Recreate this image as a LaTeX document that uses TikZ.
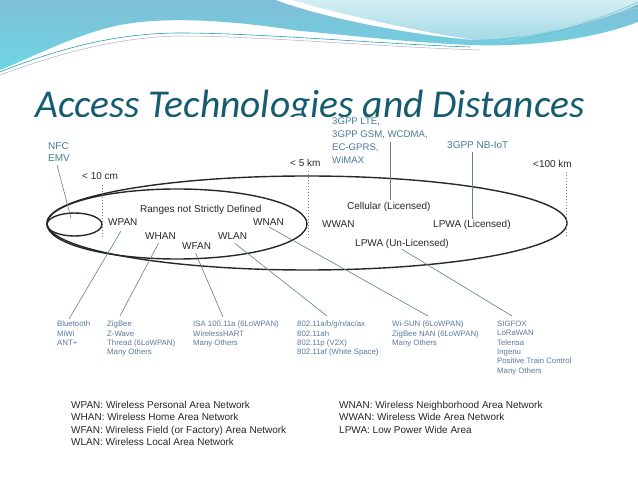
\documentclass[tikz,border=0pt]{standalone}
\usepackage{fontspec}
\setmainfont{Liberation Sans}
\newfontfamily\titlefont{Carlito}
\usetikzlibrary{positioning}

\definecolor{titleteal}{RGB}{22,92,112}
\definecolor{techblue}{RGB}{72,124,150}
\definecolor{listblue}{RGB}{88,122,158}
\definecolor{leadgray}{RGB}{95,128,140}
\definecolor{inkgray}{RGB}{40,40,40}
\definecolor{wavedeep}{RGB}{128,190,216}
\definecolor{wavecyan}{RGB}{108,214,226}
\definecolor{wavelight}{RGB}{180,228,236}
\definecolor{waveline}{RGB}{40,160,175}

\tikzset{
  lbl/.style={inner sep=0pt, anchor=base west, font=\fontsize{10}{12}\selectfont, text=inkgray},
  techlbl/.style={inner sep=0pt, align=left, anchor=north west, font=\fontsize{10}{12.6}\selectfont, text=techblue},
  techlist/.style={inner sep=0pt, align=left, anchor=north west, font=\fontsize{7.8}{9.3}\selectfont, text=listblue},
  legendtxt/.style={inner sep=0pt, align=left, anchor=north west, font=\fontsize{10}{12.5}\selectfont, text=inkgray},
  leader/.style={draw=leadgray, line width=0.6pt},
  rangeline/.style={draw=gray, dash pattern=on 1.5pt off 1.5pt, line width=0.7pt},
  rangering/.style={draw=inkgray, line width=1.4pt}
}

\begin{document}
\begin{tikzpicture}[x=1pt,y=-1pt]
  \useasboundingbox (0,0) rectangle (638,478);
  \fill[white] (0,0) rectangle (638,478);

  % wave on top of the slide
  \shade[top color=wavedeep, bottom color=wavecyan] (0,0) -- (638,0) -- (638,22)
    .. controls (590,40) and (530,47) .. (470,45)
    .. controls (400,42) and (340,34) .. (300,31)
    .. controls (230,20) and (150,14) .. (100,30)
    .. controls (60,42) and (30,58) .. (0,70) -- cycle;
  \shade[top color=wavelight!60!white, bottom color=wavelight!70!wavedeep] (292,0)
    .. controls (340,14) and (420,32) .. (475,40)
    .. controls (540,38) and (600,22) .. (638,4) -- (638,0) -- cycle;
  \fill[white] (292,0) .. controls (340,14) and (420,32) .. (475,40)
    .. controls (420,36) and (330,20) .. (276,0) -- cycle;
  \draw[waveline, line width=0.6pt] (0,72) .. controls (50,52) and (110,33) .. (180,33)
    .. controls (260,33) and (380,44) .. (470,47);
  \draw[gray!60, line width=0.5pt] (0,75) .. controls (55,55) and (115,37) .. (180,36)
    .. controls (260,36) and (380,47) .. (480,50);
  \draw[waveline!70, line width=0.5pt] (520,40) .. controls (570,30) and (610,15) .. (638,2);
  \draw[white!60!waveline, line width=0.5pt] (500,42) .. controls (560,30) and (605,14) .. (638,8);

  % title
  \node[anchor=base west, inner sep=0pt, text=titleteal,
        font=\titlefont\itshape\fontsize{39.5}{39.5}\selectfont] (title) at (35,118)
        {Access Technologies and Distances};

  % picture area
  \fill[white] (37,117) rectangle (585,452);

  % range rings
  \draw[rangering] (307,223) ellipse [x radius=260pt, y radius=47pt];
  \draw[rangering] (177,224) ellipse [x radius=130pt, y radius=35pt];
  \draw[rangering] (74.5,224.5) ellipse [x radius=27.5pt, y radius=11.5pt];

  % range limits
  \node[lbl] (cm10) at (82,180) {< 10 cm};
  \node[lbl] (km5) at (290,167) {< 5 km};
  \node[lbl] (km100) at (533,168) {<100 km};
  \coordinate (cmtick) at (102,185);
  \coordinate (kmtick) at (308,171);
  \coordinate (farttick) at (566,172);
  \draw[rangeline] (cmtick) -- ++(0,52);
  \draw[rangeline] (kmtick) -- ++(0,67);
  \draw[rangeline] (farttick) -- ++(0,66);

  % network labels
  \node[lbl] (ranges) at (140,213) {Ranges not Strictly Defined};
  \node[lbl] (wpan) at (108,226) {WPAN};
  \node[lbl] (whan) at (145,240) {WHAN};
  \node[lbl] (wfan) at (182,250) {WFAN};
  \node[lbl] (wlan) at (218,240) {WLAN};
  \node[lbl] (wnan) at (253,226) {WNAN};
  \node[lbl] (wwan) at (322,228) {WWAN};
  \node[lbl] (cell) at (347,210) {Cellular (Licensed)};
  \node[lbl] (lpwalic) at (433,228) {LPWA (Licensed)};
  \node[lbl] (lpwaun) at (355,247) {LPWA (Un-Licensed)};

  % technologies above
  \node[techlbl] (nfc) at (48,142) {NFC\\EMV};
  \node[techlbl, font=\fontsize{9.6}{12.7}\selectfont] (gpp) at (332,118)
        {3GPP LTE,\\3GPP GSM, WCDMA,\\EC-GPRS,\\WiMAX};
  \node[lbl, text=techblue] (nbiot) at (447,149) {3GPP NB-IoT};
  \coordinate (nfcin) at (71,218);
  \coordinate (gppfoot) at (390,142);
  \draw[leader] ([xshift=9pt,yshift=-3pt]nfc.south west) -- (nfcin);
  \draw[leader] (gppfoot) -- ([yshift=3pt]gppfoot |- cell.north);
  \draw[leader] ([yshift=-3pt]nbiot.south -| lpwalic.north) -- ([yshift=2pt]lpwalic.north);

  % technologies below
  \node[techlist] (bt) at (57,321) {Bluetooth\\MiWi\\ANT+};
  \node[techlist] (zb) at (107,321) {ZigBee\\Z-Wave\\Thread (6LoWPAN)\\Many Others};
  \node[techlist] (isa) at (193,321) {ISA 100.11a (6LoWPAN)\\WirelessHART\\Many Others};
  \node[techlist] (wifi) at (297,321) {802.11a/b/g/n/ac/ax\\802.11ah\\802.11p (V2X)\\802.11af (White Space)};
  \node[techlist] (wisun) at (392,321) {Wi-SUN (6LoWPAN)\\ZigBee NAN (6LoWPAN)\\Many Others};
  \node[techlist] (sigfox) at (497,321) {SIGFOX\\LoRaWAN\\Telensa\\Ingenu\\Positive Train Control\\Many Others};

  \draw[leader] ([xshift=-2pt,yshift=-5pt]wpan.south) -- ([xshift=12pt,yshift=2pt]bt.north west);
  \draw[leader] ([xshift=-2pt,yshift=-3pt]whan.south) -- ([xshift=13pt,yshift=5pt]zb.north west);
  \draw[leader] ([xshift=-1pt,yshift=-3pt]wfan.south) -- ([xshift=30pt,yshift=4pt]isa.north west);
  \draw[leader] ([xshift=2pt,yshift=-3pt]wlan.south) -- ([xshift=30pt,yshift=5pt]wifi.north west);
  \draw[leader] ([xshift=1pt,yshift=-1pt]wnan.south) -- ([xshift=36pt,yshift=5pt]wisun.north west);
  \draw[leader] (lpwaun.south) -- ([xshift=15pt,yshift=5pt]sigfox.north west);

  % legend
  \node[legendtxt] (keyleft) at (71,401) {WPAN: Wireless Personal Area Network\\WHAN: Wireless Home Area Network\\WFAN: Wireless Field (or Factory) Area Network\\WLAN: Wireless Local Area Network};
  \node[legendtxt] (keyright) at (339,401) {WNAN: Wireless Neighborhood Area Network\\WWAN: Wireless Wide Area Network\\LPWA: Low Power Wide Area};
\end{tikzpicture}
\end{document}
